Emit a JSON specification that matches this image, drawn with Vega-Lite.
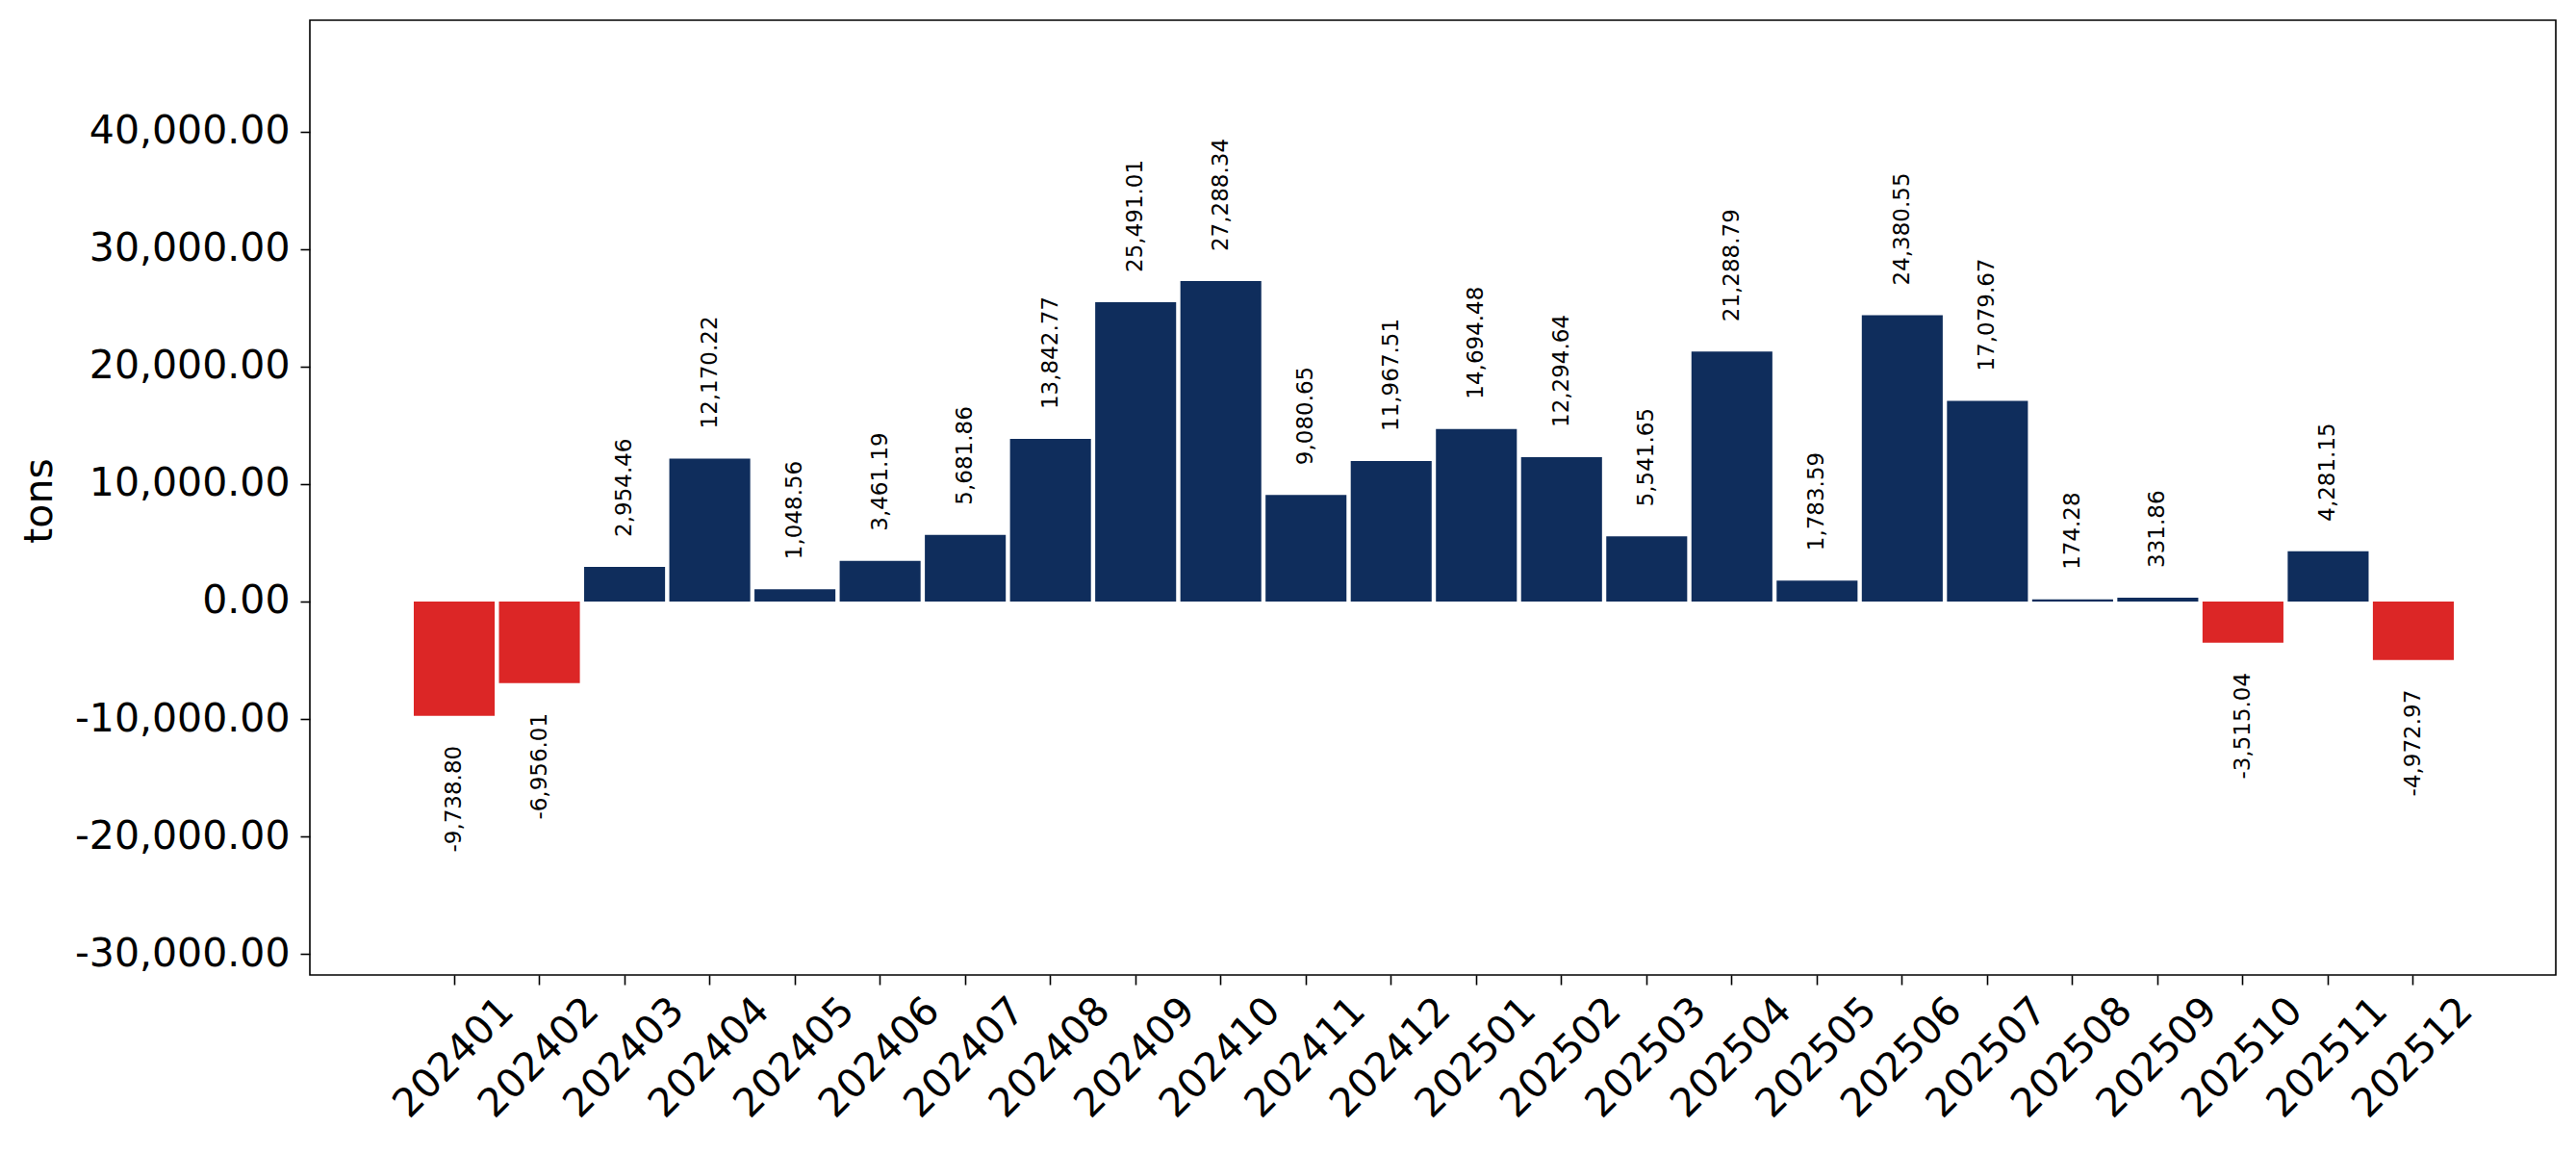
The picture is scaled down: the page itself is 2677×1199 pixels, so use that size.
{
  "$schema": "https://vega.github.io/schema/vega-lite/v6.json",
  "width": 2334,
  "height": 992,
  "autosize": {"type": "none"},
  "padding": {"left": 322, "top": 21, "right": 21, "bottom": 186},
  "background": "white",
  "config": {
    "locale": {
      "number": {"decimal": ".", "thousands": ",", "grouping": [3], "currency": ["$", ""], "minus": "-"}
    },
    "font": "DejaVu Sans",
    "view": {"stroke": "black", "strokeWidth": 1.6}
  },
  "data": {
    "values": [
      {"month": "202401", "tons": -9738.80},
      {"month": "202402", "tons": -6956.01},
      {"month": "202403", "tons": 2954.46},
      {"month": "202404", "tons": 12170.22},
      {"month": "202405", "tons": 1048.56},
      {"month": "202406", "tons": 3461.19},
      {"month": "202407", "tons": 5681.86},
      {"month": "202408", "tons": 13842.77},
      {"month": "202409", "tons": 25491.01},
      {"month": "202410", "tons": 27288.34},
      {"month": "202411", "tons": 9080.65},
      {"month": "202412", "tons": 11967.51},
      {"month": "202501", "tons": 14694.48},
      {"month": "202502", "tons": 12294.64},
      {"month": "202503", "tons": 5541.65},
      {"month": "202504", "tons": 21288.79},
      {"month": "202505", "tons": 1783.59},
      {"month": "202506", "tons": 24380.55},
      {"month": "202507", "tons": 17079.67},
      {"month": "202508", "tons": 174.28},
      {"month": "202509", "tons": 331.86},
      {"month": "202510", "tons": -3515.04},
      {"month": "202511", "tons": 4281.15},
      {"month": "202512", "tons": -4972.97}
    ]
  },
  "encoding": {
    "x": {
      "field": "month",
      "type": "nominal",
      "sort": null,
      "scale": {"paddingInner": 0.05, "paddingOuter": 0, "range": [108, 2228]},
      "axis": {
        "title": null,
        "domain": false,
        "ticks": true,
        "tickColor": "black",
        "tickWidth": 1.6,
        "tickSize": 10,
        "labelAngle": -45,
        "labelAlign": "center",
        "labelBaseline": "middle",
        "labelPadding": 76,
        "labelFontSize": 41,
        "labelColor": "black",
        "labelOverlap": false,
        "labelBound": false,
        "labelFlush": false,
        "labelLimit": 0
      }
    },
    "y": {
      "field": "tons",
      "type": "quantitative",
      "scale": {"domain": [-31800, 49500], "nice": false, "zero": false},
      "axis": {
        "title": "tons",
        "titleFontSize": 41,
        "titleFontWeight": "normal",
        "titleColor": "black",
        "titleAngle": -90,
        "titleAlign": "center",
        "titleBaseline": "middle",
        "titleX": -281,
        "titleY": 499,
        "values": [-30000, -20000, -10000, 0, 10000, 20000, 30000, 40000],
        "format": ",.2f",
        "grid": false,
        "domain": false,
        "tickColor": "black",
        "tickWidth": 1.6,
        "tickSize": 10,
        "labelPadding": 11,
        "labelFontSize": 41,
        "labelColor": "black",
        "labelBaseline": "middle",
        "labelLimit": 0
      }
    }
  },
  "layer": [
    {
      "mark": {"type": "bar"},
      "encoding": {
        "color": {
          "condition": {"test": "datum.tons < 0", "value": "#dc2626"},
          "value": "#0f2d5c"
        }
      }
    },
    {
      "transform": [{"filter": "datum.tons >= 0"}],
      "mark": {
        "type": "text",
        "angle": 270,
        "align": "left",
        "baseline": "middle",
        "dx": 31,
        "fontSize": 23,
        "color": "black"
      },
      "encoding": {
        "text": {"field": "tons", "type": "quantitative", "format": ",.2f"}
      }
    },
    {
      "transform": [{"filter": "datum.tons < 0"}],
      "mark": {
        "type": "text",
        "angle": 270,
        "align": "right",
        "baseline": "middle",
        "dx": -31,
        "fontSize": 23,
        "color": "black"
      },
      "encoding": {
        "text": {"field": "tons", "type": "quantitative", "format": ",.2f"}
      }
    }
  ]
}
